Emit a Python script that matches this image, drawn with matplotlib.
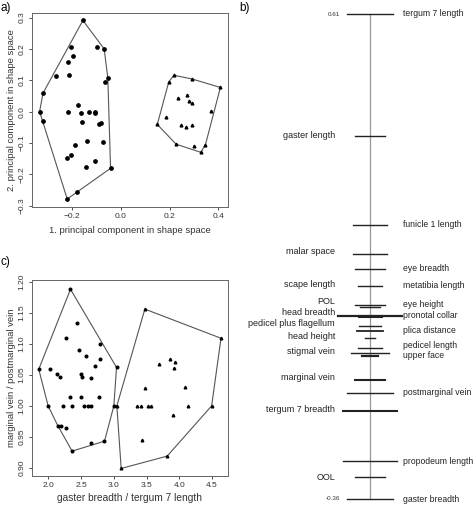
import numpy as np
import matplotlib.pyplot as plt

plt.rcParams['font.family'] = ['Liberation Sans', 'DejaVu Sans']

# panel a: PCA in shape space
a_circ_x = [-0.154, -0.203, -0.195, -0.095, -0.067, -0.214, -0.264, -0.210, -0.063, -0.052, -0.317, -0.331,
            -0.316, -0.173, -0.214, -0.161, -0.128, -0.105, -0.103, -0.159, -0.082, -0.087, -0.139, -0.185,
            -0.071, -0.204, -0.220, -0.105, -0.141, -0.041, -0.177, -0.218]
a_circ_y = [0.291, 0.205, 0.178, 0.207, 0.200, 0.158, 0.113, 0.116, 0.096, 0.106, 0.059, 0.0,
            -0.030, 0.021, 0.0, -0.004, -0.002, 0.0, -0.004, -0.033, -0.036, -0.039, -0.094, -0.105,
            -0.098, -0.140, -0.149, -0.159, -0.176, -0.181, -0.256, -0.279]
a_tri_x = [0.218, 0.293, 0.408, 0.197, 0.273, 0.233, 0.278, 0.293, 0.370, 0.185, 0.150, 0.245,
           0.269, 0.290, 0.227, 0.302, 0.347, 0.328]
a_tri_y = [0.116, 0.104, 0.077, 0.095, 0.053, 0.042, 0.035, 0.026, 0.002, -0.016, -0.041, -0.042,
           -0.050, -0.042, -0.104, -0.109, -0.105, -0.130]

# panel c: ratios
c_circ_x = [2.337, 2.434, 2.270, 2.464, 2.571, 2.791, 2.781, 2.719, 3.041, 2.031, 1.852, 2.138, 2.173,
            2.505, 2.515, 2.653, 2.327, 2.495, 2.776, 1.995, 2.219, 2.362, 2.546, 2.607, 2.648, 3.0,
            2.143, 2.189, 2.265, 2.648, 2.857, 2.362]
c_circ_y = [1.188, 1.133, 1.110, 1.090, 1.081, 1.099, 1.076, 1.065, 1.062, 1.059, 1.059, 1.051, 1.046,
            1.052, 1.047, 1.045, 1.014, 1.014, 1.015, 1.0, 1.0, 1.0, 1.0, 1.0, 1.0, 1.0,
            0.968, 0.968, 0.965, 0.940, 0.943, 0.927]
c_tri_x = [3.474, 4.638, 3.689, 3.852, 3.934, 3.918, 4.082, 3.474, 3.046, 3.352, 3.408, 3.515, 3.566,
           4.133, 4.495, 3.898, 3.423, 3.816, 3.112]
c_tri_y = [1.156, 1.109, 1.067, 1.076, 1.071, 1.061, 1.031, 1.029, 1.0, 1.0, 1.0, 1.0, 1.0,
           1.0, 1.0, 0.986, 0.945, 0.919, 0.899]

# panel b: loadings (value, half width, line width)
b_lines = [(0.61, 23, 1.0), (0.366, 15, 1.0), (0.189, 17, 1.0), (0.131, 17, 1.0), (0.101, 15, 1.0),
           (0.067, 12, 1.0), (0.029, 15, 1.0), (0.025, 10, 1.0), (0.007, 32, 1.6), (0.007, 11, 2.2),
           (-0.013, 11, 1.0), (-0.023, 13, 1.3), (-0.037, 5, 1.0), (-0.057, 12, 1.0), (-0.067, 19, 1.0),
           (-0.073, 8, 1.6), (-0.121, 15, 1.5), (-0.147, 23, 1.0), (-0.184, 27, 1.5), (-0.284, 27, 1.0),
           (-0.316, 15, 1.0), (-0.36, 23, 1.0)]
b_left_labels = [("gaster length", 0.366), ("malar space", 0.135), ("scape length", 0.069), ("POL", 0.035),
                 ("head breadth", 0.013), ("pedicel plus flagellum", -0.009), ("head height", -0.035),
                 ("stigmal vein", -0.065), ("marginal vein", -0.117), ("tergum 7 breadth", -0.182),
                 ("OOL", -0.316)]
b_right_labels = [("tergum 7 length", 0.61), ("funicle 1 length", 0.189), ("eye breadth", 0.101),
                  ("metatibia length", 0.067), ("eye height", 0.029), ("pronotal collar", 0.008),
                  ("plica distance", -0.023), ("pedicel length", -0.053), ("upper face", -0.073),
                  ("postmarginal vein", -0.147), ("propodeum length", -0.284), ("gaster breadth", -0.36)]


def hull(xs, ys):
    pts = sorted(set(zip(xs, ys)))
    def cross(o, a, b):
        return (a[0]-o[0])*(b[1]-o[1]) - (a[1]-o[1])*(b[0]-o[0])
    lo, up = [], []
    for p in pts:
        while len(lo) >= 2 and cross(lo[-2], lo[-1], p) <= 0:
            lo.pop()
        lo.append(p)
    for p in reversed(pts):
        while len(up) >= 2 and cross(up[-2], up[-1], p) <= 0:
            up.pop()
        up.append(p)
    h = lo[:-1] + up[:-1]
    h.append(h[0])
    return np.array(h)


def scatter_panel(ax, cx, cy, tx, ty, ms_c, ms_t):
    for xs, ys in ((cx, cy), (tx, ty)):
        h = hull(xs, ys)
        ax.plot(h[:, 0], h[:, 1], color='#555555', lw=0.8)
    ax.plot(cx, cy, 'o', color='black', ms=ms_c, ls='none')
    ax.plot(tx, ty, '^', color='black', ms=ms_t, ls='none')
    ax.tick_params(labelsize=6, length=2.5, width=0.6, pad=2, colors='#333333')
    for s in ax.spines.values():
        s.set_color('#666666')
        s.set_linewidth(0.7)


def rot_y(ax):
    for lab in ax.get_yticklabels():
        lab.set_rotation(90)
        lab.set_va('center')


fig = plt.figure(figsize=(4.74, 5.09), dpi=100)

ax1 = fig.add_axes([0.067, 0.593, 0.414, 0.381])
scatter_panel(ax1, a_circ_x, a_circ_y, a_tri_x, a_tri_y, 2.4, 2.0)
ax1.set_xlim(-0.363, 0.439)
ax1.set_ylim(-0.305, 0.314)
ax1.set_xticks([-0.2, 0.0, 0.2, 0.4])
ax1.set_yticks([-0.3, -0.2, -0.1, 0.0, 0.1, 0.2, 0.3])
ax1.set_xlabel("1. principal component in shape space", fontsize=6.8, color='#333333', labelpad=4)
ax1.set_ylabel("2. principal component in shape space", fontsize=6.8, color='#333333', labelpad=2)
rot_y(ax1)

ax3 = fig.add_axes([0.067, 0.065, 0.414, 0.385])
scatter_panel(ax3, c_circ_x, c_circ_y, c_tri_x, c_tri_y, 1.9, 1.9)
ax3.set_xlim(1.745, 4.745)
ax3.set_ylim(0.887, 1.203)
ax3.set_xticks([2.0, 2.5, 3.0, 3.5, 4.0, 4.5])
ax3.set_yticks([0.90, 0.95, 1.00, 1.05, 1.10, 1.15, 1.20])
ax3.set_yticklabels(["0.90", "0.95", "1.00", "1.05", "1.10", "1.15", "1.20"])
ax3.set_xlabel("gaster breadth / tergum 7 length", fontsize=7.3, color='#333333', labelpad=3)
ax3.set_ylabel("marginal vein / postmarginal vein", fontsize=6.8, color='#333333', labelpad=2)
rot_y(ax3)

ax2 = fig.add_axes([0.5, 0.0, 0.5, 1.0])
ax2.set_xlim(0, 237)
ax2.set_ylim(-0.38, 0.638)
ax2.axis('off')
cx = 133
ax2.plot([cx, cx], [-0.36, 0.61], color='#999999', lw=0.9)
for v, hw, lw in b_lines:
    ax2.plot([cx - hw, cx + hw], [v, v], color='#222222', lw=lw)
for t, v in b_left_labels:
    ax2.text(98, v, t, ha='right', va='center', fontsize=6.5, color='#222222')
for t, v in b_right_labels:
    ax2.text(166, v, t, ha='left', va='center', fontsize=6.2, color='#222222')
ax2.text(103, 0.61, "0.61", ha='right', va='center', fontsize=4.5, color='#333333')
ax2.text(103, -0.36, "-0.36", ha='right', va='center', fontsize=4.5, color='#333333')

fig.text(0.002, 0.985, "a)", fontsize=8.5, va='center')
fig.text(0.002, 0.485, "c)", fontsize=8.5, va='center')
fig.text(0.505, 0.985, "b)", fontsize=8.5, va='center')

fig.savefig("out.png", dpi=100)
